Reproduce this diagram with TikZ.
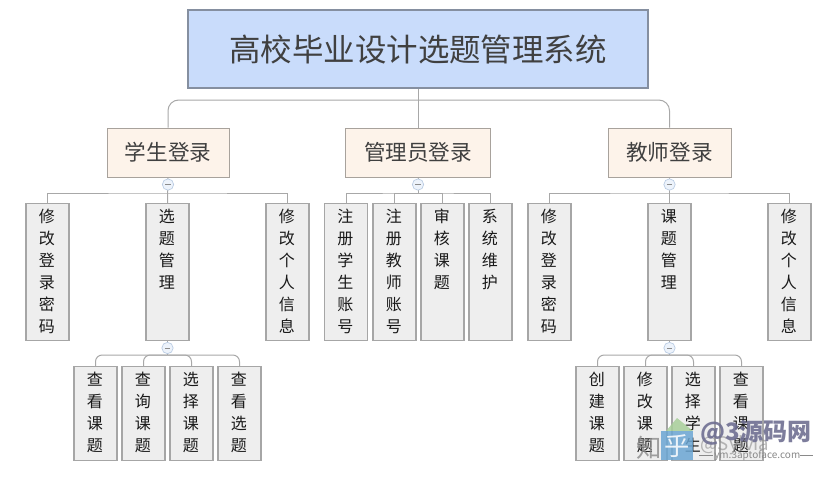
\documentclass[tikz,border=0pt]{standalone}
\usepackage{fontspec}
\setmainfont{Noto Sans CJK SC}
\definecolor{rootfill}{HTML}{C9DCFB}
\definecolor{rootline}{HTML}{858FA0}
\definecolor{midfill}{HTML}{FDF3EA}
\definecolor{midline}{HTML}{A8A29C}
\definecolor{leaffill}{HTML}{EEEEEE}
\definecolor{leafline}{HTML}{A6A6A6}
\definecolor{conn}{HTML}{A8A8A8}
\definecolor{togfill}{HTML}{EDF3FB}
\definecolor{togline}{HTML}{B9CBE3}
\definecolor{wmblue}{HTML}{6BA6D3}
\definecolor{wmgreen}{HTML}{A8CF9A}
\definecolor{wmpurple}{HTML}{6F6F92}
\definecolor{wmgrey}{HTML}{8A8A8A}
\tikzset{
 x=0.75pt,y=-0.75pt,
 rootbox/.style={draw=rootline,fill=rootfill,line width=0.9pt,minimum width=345pt,minimum height=58.5pt,inner sep=0pt,font=\fontsize{23.6pt}{26pt}\selectfont,text=black!75},
 midbox/.style={draw=midline,fill=midfill,line width=0.75pt,minimum height=36.75pt,inner sep=0pt,font=\fontsize{16.2pt}{18pt}\selectfont,text=black!75},
 leafbox/.style={draw=leafline,fill=leaffill,line width=0.9pt,minimum width=32.25pt,inner sep=0pt,anchor=north},
 tall/.style={leafbox,minimum height=102.75pt},
 short/.style={leafbox,minimum height=70.5pt},
 vtext/.style={anchor=north,inner sep=0pt,align=center,text=black!90,font=\fontsize{12pt}{16.5pt}\selectfont},
 conn/.style={draw=conn,line width=0.75pt,rounded corners=8pt},
 connb/.style={draw=conn,line width=0.75pt},
 connc/.style={draw=conn,line width=0.75pt,rounded corners=5pt},
 toggle/.style={circle,draw=togline,fill=togfill,line width=0.5pt,minimum size=8.5pt,inner sep=0pt},
 togglemark/.style={draw=black!45,line width=0.5pt},
 wmtext/.style={inner sep=0pt,anchor=west},
}
\newcommand{\lv}[3]{\node[tall] (#1) at (#2,203) {};\node[vtext] (#1t) at ([xshift=-0.4pt,yshift=-4.5pt]#1.north) {#3};}
\newcommand{\lw}[3]{\node[short] (#1) at (#2,366) {};\node[vtext] (#1t) at ([xshift=-0.4pt,yshift=-4.4pt]#1.north) {#3};}
\begin{document}
\begin{tikzpicture}
\useasboundingbox (0,0) rectangle (831,480);
\fill[white] (0,0) rectangle (831,480);
\coordinate (busR) at (418,100);
\node[rootbox] (root) at (418,49) {高校毕业设计选题管理系统};
\node[midbox,minimum width=91.5pt] (stu) at (168,152.5) {学生登录};
\node[midbox,minimum width=108.75pt] (adm) at (418,152.5) {管理员登录};
\node[midbox,minimum width=92.25pt] (tea) at (669.5,152.5) {教师登录};
\draw[conn] (stu.north) |- (busR) -| (tea.north);
\draw[connb] (root.south) -- (adm.north);
\coordinate (b1) at (168,193);
\coordinate (b2) at (418,193);
\coordinate (b3) at (669.5,193);
\coordinate (c1) at (167.5,355);
\coordinate (c2) at (669.5,355);
\lv{a1}{47.5}{修\\改\\登\\录\\密\\码}
\lv{a2}{167.5}{选\\题\\管\\理}
\lv{a3}{287.5}{修\\改\\个\\人\\信\\息}
\lv{d1}{346}{注\\册\\学\\生\\账\\号}
\lv{d2}{394.5}{注\\册\\教\\师\\账\\号}
\lv{d3}{442.5}{审\\核\\课\\题}
\lv{d4}{490.5}{系\\统\\维\\护}
\lv{t1}{549.5}{修\\改\\登\\录\\密\\码}
\lv{t2}{669.5}{课\\题\\管\\理}
\lv{t3}{789.5}{修\\改\\个\\人\\信\\息}
\lw{s1}{95.5}{查\\看\\课\\题}
\lw{s2}{143.5}{查\\询\\课\\题}
\lw{s3}{191.5}{选\\择\\课\\题}
\lw{s4}{239.5}{查\\看\\选\\题}
\lw{u1}{597.5}{创\\建\\课\\题}
\lw{u2}{645.5}{修\\改\\课\\题}
\lw{u3}{693.5}{选\\择\\学\\生}
\lw{u4}{741.5}{查\\看\\课\\题}
\draw[connb] (a1.north) |- (b1) -| (a3.north);
\draw[connb] (stu.south) -- (a2.north);
\draw[connb] (d1.north) |- (b2) -| (d4.north);
\draw[connb] (d2.north) |- (b2);
\draw[connb] (d3.north) |- (b2);
\draw[connb] (adm.south) -- (b2);
\draw[connb] (t1.north) |- (b3) -| (t3.north);
\draw[connb] (tea.south) -- (t2.north);
\draw[connc] (s1.north) |- (c1) -| (s4.north);
\draw[connc] (s2.north) |- (c1);
\draw[connc] (s3.north) |- (c1);
\draw[connb] (a2.south) -- (c1);
\draw[connc] (u1.north) |- (c2) -| (u4.north);
\draw[connc] (u2.north) |- (c2);
\draw[connc] (u3.north) |- (c2);
\draw[connb] (t2.south) -- (c2);
\foreach \n/\x/\y in {ta/168/184.5,tb/418/184.5,tc/669.5/184.5,td/167.5/348,te/669.5/348}{
 \node[toggle] (\n) at (\x,\y) {};
 \draw[togglemark] ([xshift=-2pt]\n.center) -- ([xshift=2pt]\n.center);
}
% watermark
\fill[wmgreen,opacity=.85] (677,418) -- (666,431) -- (693,431) -- cycle;
\fill[wmblue,opacity=.85] (661,431) rectangle (693,460);
\node[wmtext,text=wmgrey,opacity=.8,font=\fontsize{19pt}{19pt}\selectfont] (wm1a) at (636,448) {知};
\node[wmtext,text=white,opacity=.85,font=\fontsize{19pt}{19pt}\selectfont] (wm1b) at (664,446) {乎};
\node[wmtext,text=wmgrey,opacity=.6,font=\fontsize{14pt}{14pt}\selectfont] (wm2) at (700,445) {@Sylvia};
\node[wmtext,text=wmpurple,opacity=.9,font=\fontsize{18pt}{18pt}\selectfont\bfseries] (wm3) at (700,433) {@3源码网};
\node[wmtext,text=wmgrey,font=\fontsize{7.5pt}{8pt}\selectfont] (wm4) at (714,456) {ym.3aptoface.com};
\draw[wmgrey,line width=0.75pt] (699,455) -- (713,455) (800,455) -- (813,455);
\end{tikzpicture}
\end{document}
